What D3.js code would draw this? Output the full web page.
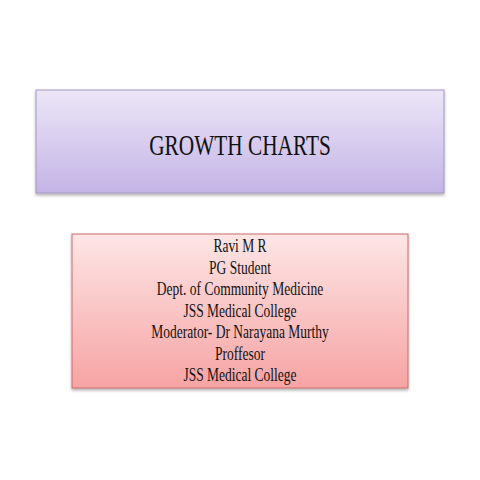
<!DOCTYPE html>
<html><head><meta charset="utf-8">
<script src="https://cdn.jsdelivr.net/npm/d3@7"></script>
<style>body{margin:0;background:#fff}</style></head>
<body><svg id="s" width="480" height="480"></svg>
<script>
const titleLines = ["GROWTH CHARTS"];
const authorLines = ["Ravi M R","PG Student","Dept. of Community Medicine","JSS Medical College","Moderator- Dr Narayana Murthy","Proffesor","JSS  Medical College"];
const svg = d3.select("#s");
const defs = svg.append("defs");
function grad(id, c1, c2){
  const g = defs.append("linearGradient").attr("id",id).attr("x1",0).attr("y1",0).attr("x2",0).attr("y2",1);
  g.append("stop").attr("offset","0%").attr("stop-color",c1);
  g.append("stop").attr("offset","100%").attr("stop-color",c2);
}
grad("g1","#ece6f7","#c4b4e6");
grad("g2","#fde6e6","#f7a3a3");
const f = defs.append("filter").attr("id","sh").attr("x","-5%").attr("y","-5%").attr("width","110%").attr("height","120%");
f.append("feDropShadow").attr("dx",0).attr("dy",2).attr("stdDeviation",1.5).attr("flood-color","#000").attr("flood-opacity",0.3);
svg.append("rect").attr("x",36).attr("y",90).attr("width",408).attr("height",103)
  .attr("fill","url(#g1)").attr("stroke","#a497c4").attr("stroke-width",1).attr("filter","url(#sh)");
svg.append("rect").attr("x",72).attr("y",234).attr("width",336).attr("height",154)
  .attr("fill","url(#g2)").attr("stroke","#c96a6a").attr("stroke-width",1).attr("filter","url(#sh)");
svg.selectAll("text.t").data(titleLines).join("text").attr("class","t")
  .attr("transform","translate(240,155) scale(0.735,1)").attr("text-anchor","middle")
  .style("font-family","Liberation Serif, serif").style("font-size","29px").attr("fill","#111")
  .text(d=>d);
const y = d3.scaleLinear().domain([0, authorLines.length-1]).range([252, 381]);
svg.selectAll("text.a").data(authorLines).join("text").attr("class","a")
  .attr("transform",(d,i)=>`translate(240,${y(i)}) scale(0.75,1)`).attr("text-anchor","middle")
  .style("font-family","Liberation Serif, serif").style("font-size","18px").attr("fill","#111").text(d=>d);
</script></body></html>
